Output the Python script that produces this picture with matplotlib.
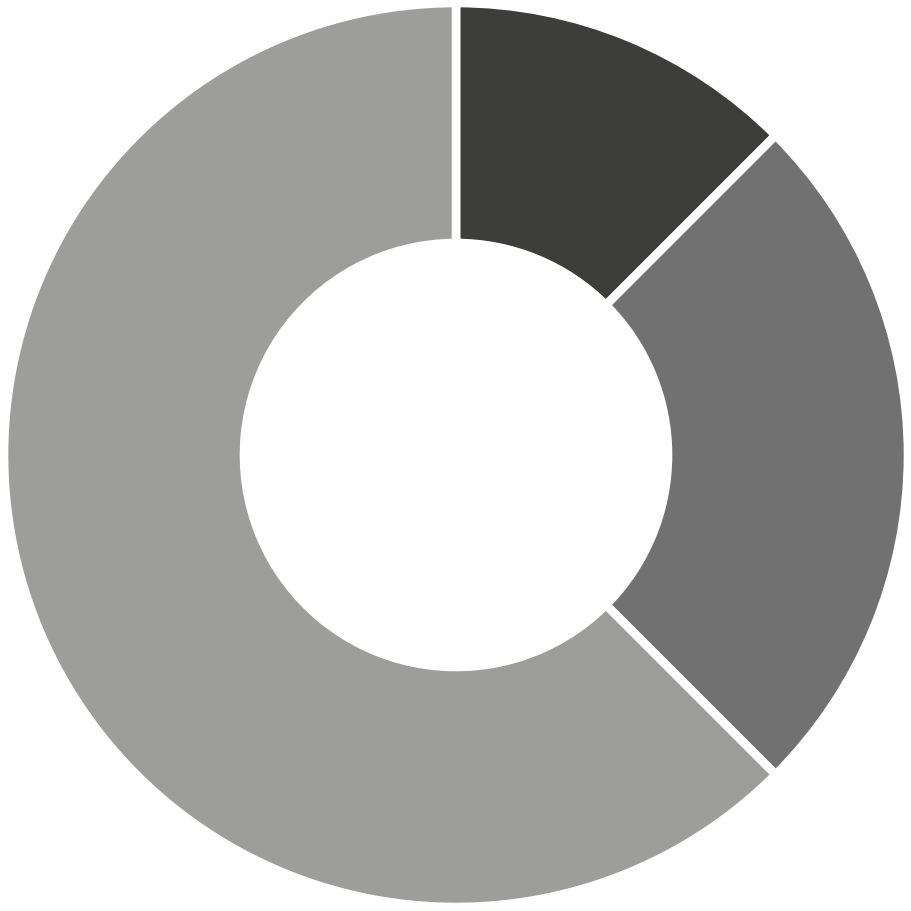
import matplotlib
matplotlib.use("Agg")
import matplotlib.pyplot as plt

# 三個區塊（由 12 點鐘方向順時針）
labels = ["A", "B", "C"]
values = [12.5, 25.0, 62.5]
colors = ["#3d3d3b", "#717171", "#9d9d9c"]

fig = plt.figure(figsize=(9.12, 9.12), dpi=100)
ax = fig.add_axes([0, 0, 1, 1])

outer_px = 452
inner_px = 212
half = 456

ax.pie(values, colors=colors, startangle=90, counterclock=False,
       radius=1.0,
       wedgeprops=dict(width=1.0 - inner_px / outer_px, edgecolor="white",
                       linewidth=6.2))

lim = half / outer_px
ax.set_xlim(-lim, lim)
ax.set_ylim(-lim, lim)
ax.set_aspect("equal")
ax.axis("off")

fig.savefig("out.png", dpi=100, facecolor="white")
